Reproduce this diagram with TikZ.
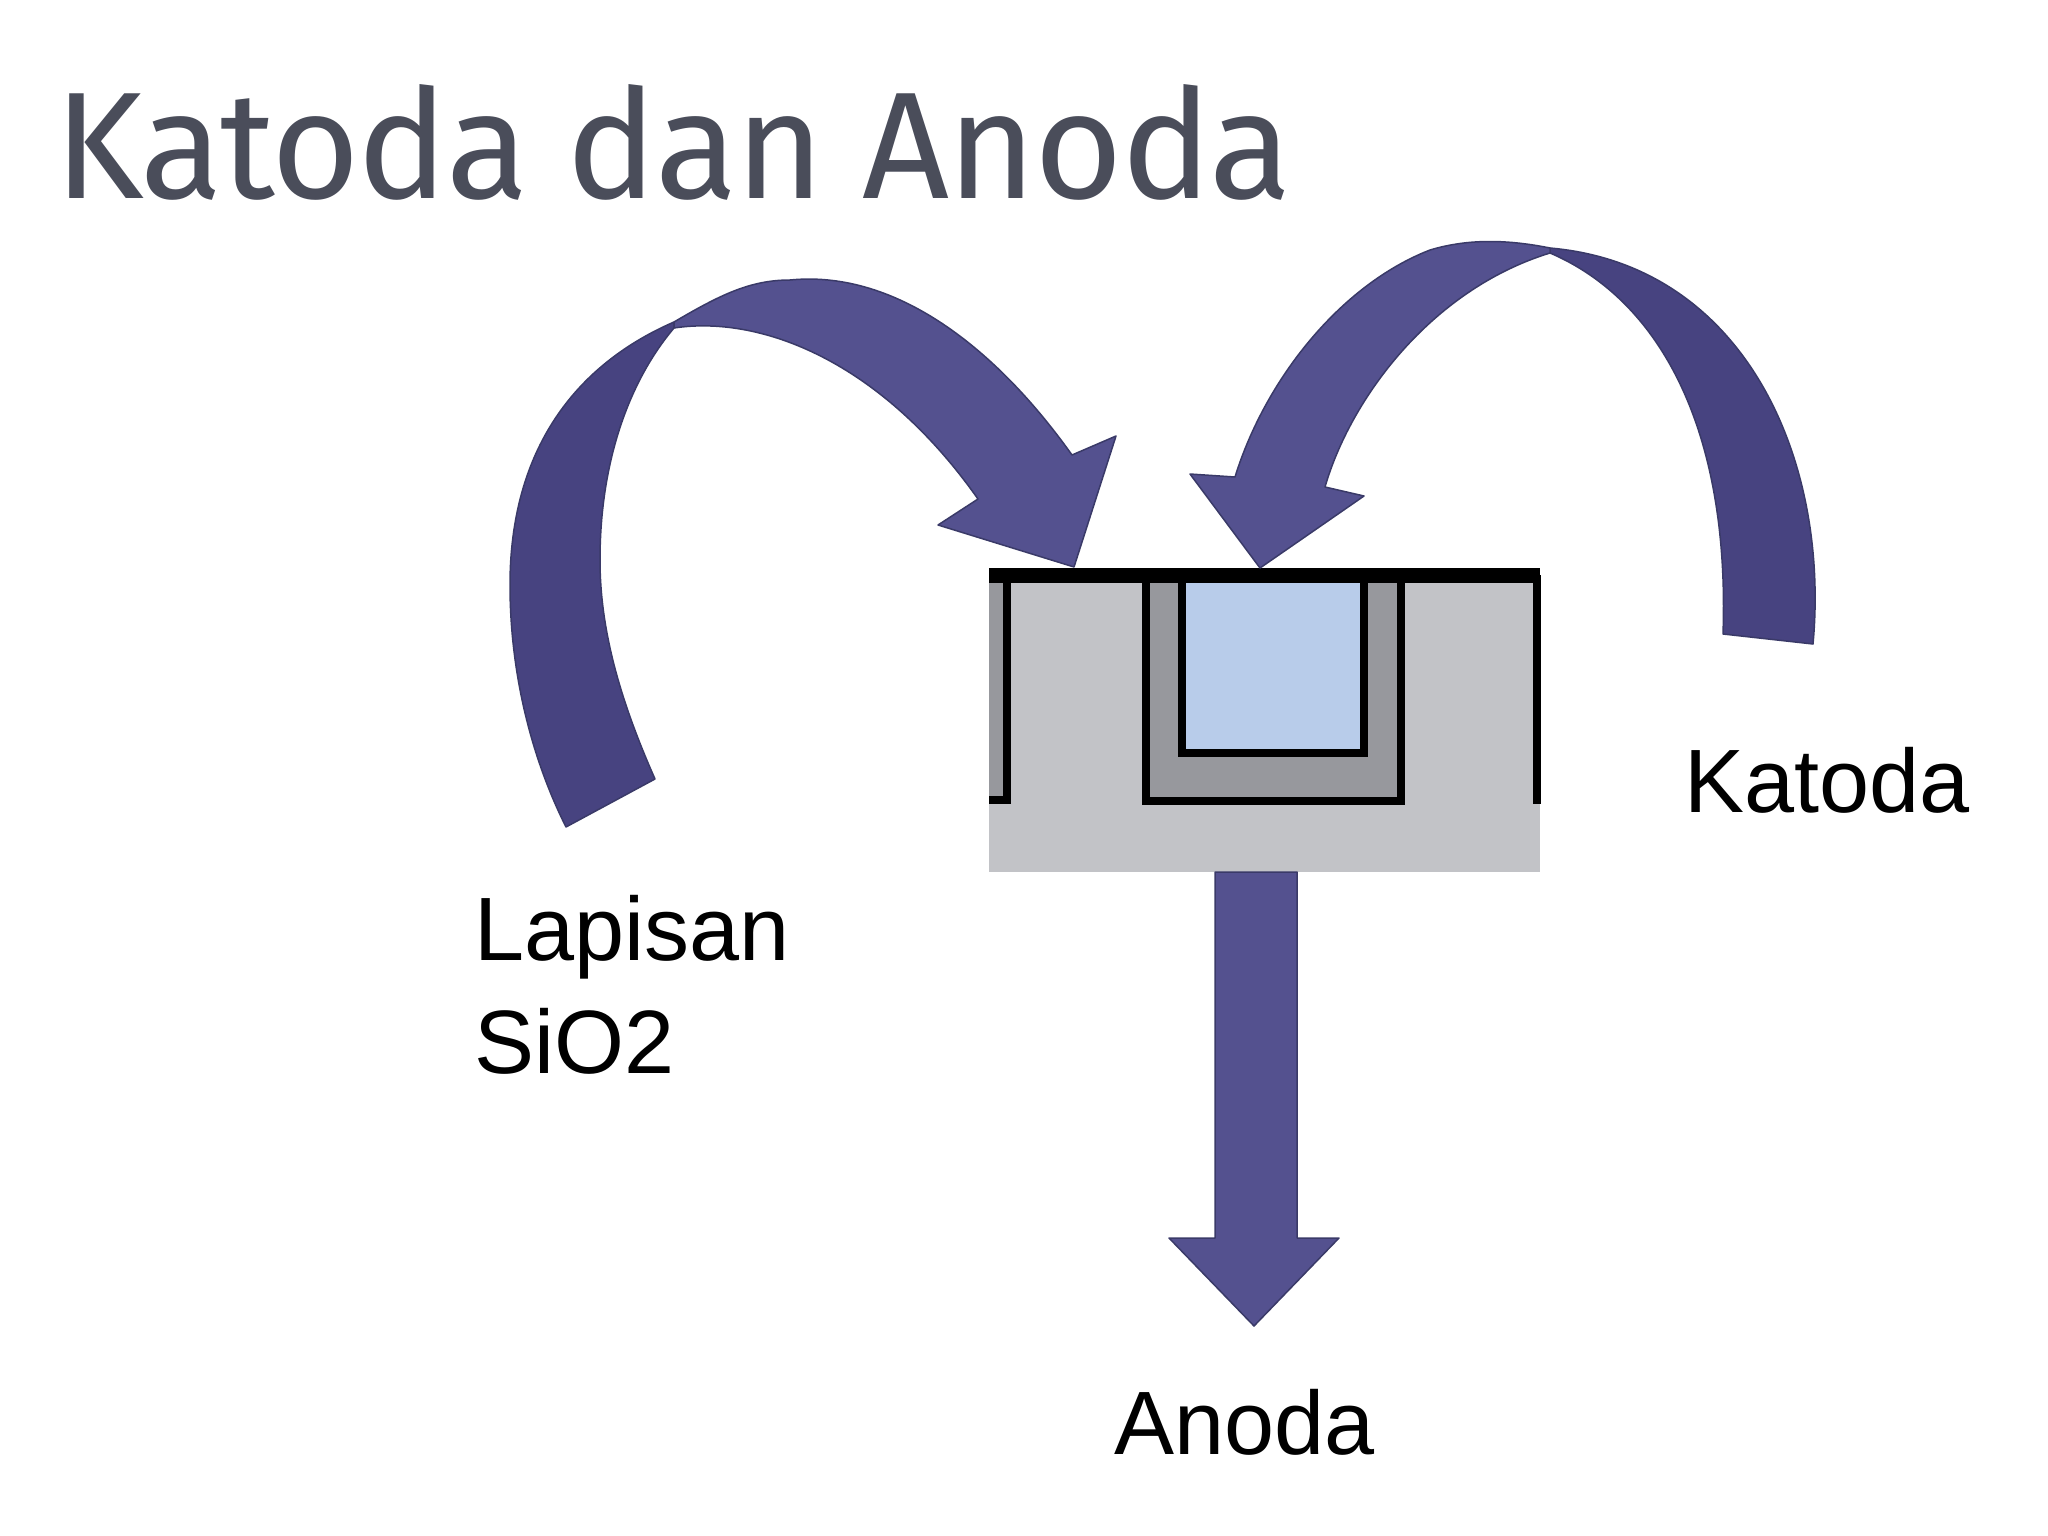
\documentclass[tikz,border=0pt]{standalone}
\usepackage{fontspec}
\setmainfont{Liberation Sans}
\newfontfamily\titlefont[LetterSpace=-1.5]{Fira Sans}
\definecolor{arrowmain}{HTML}{54518F}
\definecolor{arrowdark}{HTML}{474380}
\definecolor{arrowedge}{HTML}{3A3A68}
\definecolor{boxgrey}{HTML}{C2C3C7}
\definecolor{wellgrey}{HTML}{97989D}
\definecolor{coreblue}{HTML}{B8CCEA}
\definecolor{titlegrey}{HTML}{4A4D5A}
\tikzset{
  x=1pt,y=-1pt,
  lbl/.style={anchor=base west,inner sep=0pt,outer sep=0pt,font=\fontsize{90}{113}\selectfont,text=black},
  ttl/.style={anchor=base west,inner sep=0pt,outer sep=0pt,font=\titlefont\fontsize{152}{180}\selectfont,text=titlegrey},
  blockmain/.style={fill=arrowmain,draw=arrowedge,line width=1.5pt,line join=round},
  blockdark/.style={fill=arrowdark,draw=arrowedge,line width=1.5pt,line join=round},
  wall/.style={draw=black,line width=8pt,line cap=butt,line join=miter},
}
\begin{document}
\begin{tikzpicture}
\useasboundingbox (0,0) rectangle (2048,1536);
% chip
\fill[boxgrey] (989,568) rectangle (1540,872);
\fill[wellgrey] (989,583) rectangle (1003,796);
\fill[wellgrey] (1145,575) rectangle (1401,801);
\fill[coreblue] (1182,575) rectangle (1364,753);
\draw[wall] (1145.5,575) -- (1145.5,801) -- (1400.5,801) -- (1400.5,575);
\draw[wall] (1182,575) -- (1182,753) -- (1364,753) -- (1364,575);
\draw[wall] (1007,575) -- (1007,800) -- (989,800);
\draw[wall] (1537,575) -- (1537,804);
\fill[black] (989,568) rectangle (1540,583);
% left curved arrow: tail section
\draw[blockdark] (566,827) -- (655,779)
  .. controls (620,700) and (600,630) .. (600,560)
  .. controls (600,460) and (630,380) .. (674,328)
  -- (674,322)
  .. controls (575,365) and (510,450) .. (510,585)
  .. controls (510,670) and (530,755) .. (566,827)
  -- cycle;
% left curved arrow: head section
\draw[blockmain] (674,328)
  .. controls (760,315) and (880,360) .. (978,499)
  -- (938,525) -- (1074,567) -- (1116,436) -- (1072,455)
  .. controls (990,340) and (890,270) .. (790,280)
  .. controls (750,280) and (720,295) .. (674,322)
  -- cycle;
% right curved arrow: tail section
\draw[blockdark] (1723,634) -- (1813,644)
  .. controls (1830,460) and (1745,265) .. (1550,248)
  -- (1550,253)
  .. controls (1660,300) and (1730,430) .. (1723,634)
  -- cycle;
% right curved arrow: head section
\draw[blockmain] (1550,248)
  .. controls (1510,240) and (1470,238) .. (1430,250)
  .. controls (1340,285) and (1265,380) .. (1235,477)
  -- (1190,474) -- (1260,568) -- (1364,496) -- (1325,487)
  .. controls (1350,400) and (1430,290) .. (1550,253)
  -- cycle;
% straight down arrow
\draw[blockmain] (1215,872) -- (1297,872) -- (1297,1238) -- (1339,1238) -- (1254,1326) -- (1169,1238) -- (1215,1238) -- cycle;
% labels
\node[ttl] (title) at (54,198) {Katoda dan Anoda};
\node[lbl] (katoda) at (1684,812) {Katoda};
\node[lbl] (lapisan) at (474,960) {Lapisan};
\node[lbl] (sio) at (474,1073) {SiO2};
\node[lbl] (anoda) at (1114,1454) {Anoda};
\end{tikzpicture}
\end{document}
